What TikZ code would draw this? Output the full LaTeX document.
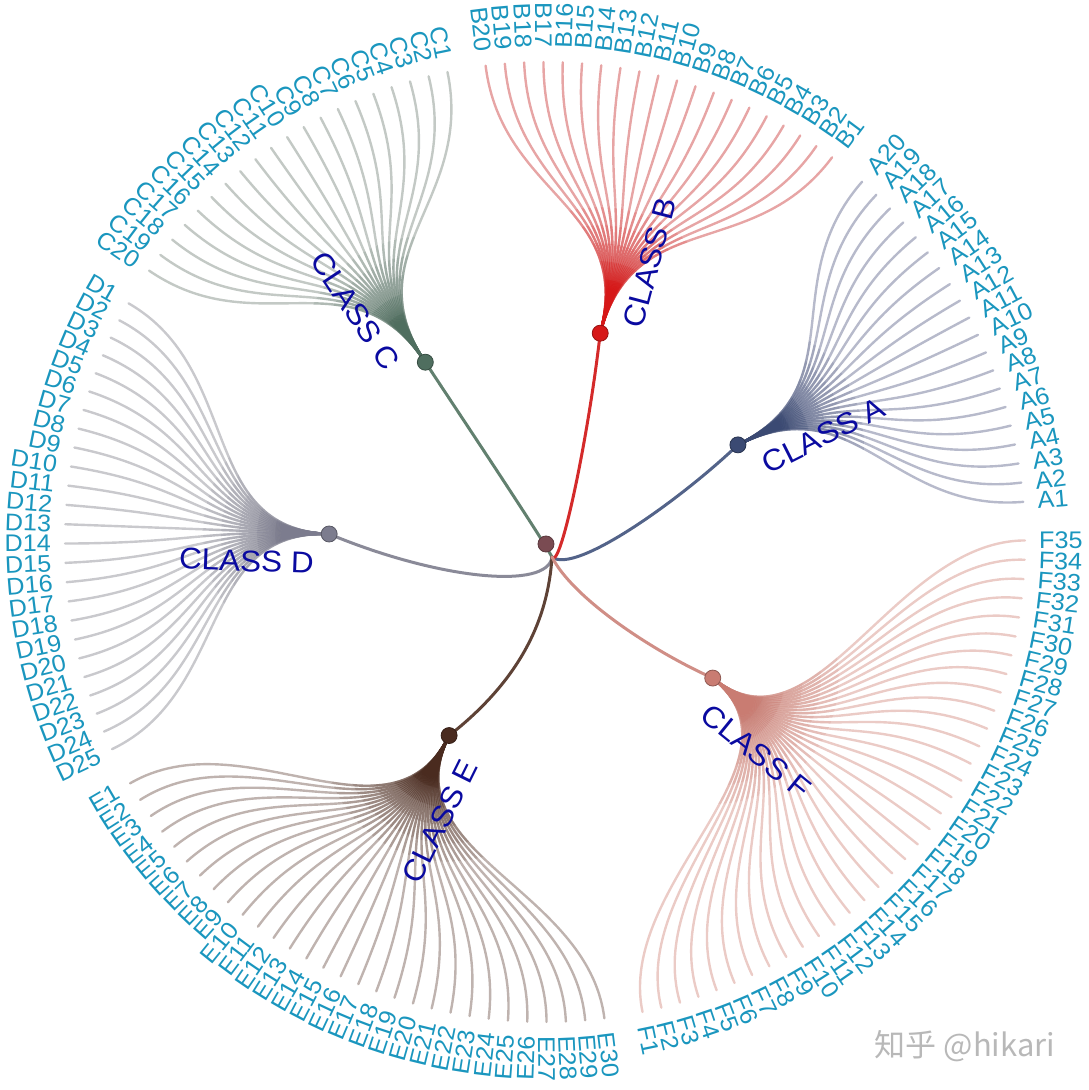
\documentclass[tikz,border=0pt]{standalone}
\usepackage{fontspec}
\setmainfont{Liberation Sans}
\newfontfamily\leaffont{Liberation Sans}[FakeStretch=1.05]
\newfontfamily\cjkfont{Noto Sans CJK SC}
\usepackage{tikz}
\usetikzlibrary{calc}

\definecolor{labcyan}{HTML}{1A96BE}
\definecolor{clsblue}{HTML}{0A0AA0}
\definecolor{rootdot}{HTML}{7A4B52}

\definecolor{trunkA}{HTML}{536389}
\definecolor{trunkB}{HTML}{D42A2A}
\definecolor{trunkC}{HTML}{62806F}
\definecolor{trunkD}{HTML}{8A8A98}
\definecolor{trunkE}{HTML}{5E4236}
\definecolor{trunkF}{HTML}{D08E86}

\definecolor{darkA}{HTML}{3B4A73}
\definecolor{darkB}{HTML}{D61818}
\definecolor{darkC}{HTML}{4F6E5F}
\definecolor{darkD}{HTML}{7C7C8E}
\definecolor{darkE}{HTML}{4A2B1F}
\definecolor{darkF}{HTML}{C97C72}

\definecolor{lightA}{HTML}{B7BACB}
\definecolor{lightB}{HTML}{E7A5A5}
\definecolor{lightC}{HTML}{C3C9C5}
\definecolor{lightD}{HTML}{C9C9CD}
\definecolor{lightE}{HTML}{BFB3AF}
\definecolor{lightF}{HTML}{EBCBC6}

\begin{document}
\begin{tikzpicture}[x=1pt,y=1pt]

	\tikzstyle{leaf} = [line width=2.4pt, line cap=round]
	\tikzstyle{trunk} = [line width=3pt, line cap=round]
	\tikzstyle{dot} = [circle, minimum size=16pt, inner sep=0pt, line width=0.8pt]
	\tikzstyle{leaflabel} = [inner sep=0pt, text=labcyan, font=\leaffont\fontsize{24}{24}\selectfont]
	\tikzstyle{classlabel} = [inner sep=0pt, text=clsblue, font=\leaffont\fontsize{30}{30}\selectfont]

	\useasboundingbox (-545,-548) rectangle (544,542);

	\def\angzero{4.8}
	\def\leafstep{2.3077}
	\def\noder{216}
	\def\ctrlr{348}
	\def\leafr{480}
	\def\labr{494}

%------------------------------------------------------------
	% class nodes and leaf ends
	\foreach \cls/\first/\num in {A/0/20, B/21/20, C/42/20, D/63/25, E/89/30, F/120/35} {
		\pgfmathsetmacro\midang{\angzero+(\first+(\num-1)/2)*\leafstep}
		\coordinate (c\cls) at (\midang:\noder);
		\foreach \i in {1,...,\num} {
			\pgfmathsetmacro\ang{\angzero+(\first+\i-1)*\leafstep}
			\coordinate (\cls\i) at (\ang:\leafr);
		}
	}

%------------------------------------------------------------
	% trunk edges from the hub
	\coordinate (hub) at (7,-15);

	\draw[trunk, trunkA] (hub) .. controls (30,-33) and (135,42) .. (cA);
	\draw[trunk, trunkB] (hub) .. controls (15,-30) and (43,102) .. (cB);
	\draw[trunk, trunkC] (hub) .. controls (-5,7) and (-75,112) .. (cC);
	\draw[trunk, trunkD] (hub) .. controls (3,-48) and (-105,-38) .. (cD);
	\draw[trunk, trunkE] (hub) .. controls (3,-78) and (-25,-138) .. (cE);
	\draw[trunk, trunkF] (hub) .. controls (27,-55) and (105,-108) .. (cF);

%------------------------------------------------------------
	% leaf fans, light first, then darker towards the class node
	\foreach \cls/\first/\num in {A/0/20, B/21/20, C/42/20, D/63/25, E/89/30, F/120/35} {
		\pgfmathsetmacro\midang{\angzero+(\first+(\num-1)/2)*\leafstep}
		\foreach \i in {1,...,\num} {
			\pgfmathsetmacro\ang{\angzero+(\first+\i-1)*\leafstep}
			\draw[leaf, light\cls] (c\cls) .. controls (\midang:\ctrlr) and (\ang:\ctrlr) .. (\cls\i);
		}
		\foreach \rr in {18,36,...,126} {
			\begin{scope}
				\clip (c\cls) circle (\rr);
				\foreach \i in {1,...,\num} {
					\pgfmathsetmacro\ang{\angzero+(\first+\i-1)*\leafstep}
					\draw[leaf, dark\cls, opacity=0.16] (c\cls) .. controls (\midang:\ctrlr) and (\ang:\ctrlr) .. (\cls\i);
				}
			\end{scope}
		}
	}

%------------------------------------------------------------
	% dots
	\node[dot, fill=rootdot, draw=rootdot!75!black] (root) at (1,-2) {};
	\foreach \cls in {A,B,C,D,E,F}
		\node[dot, fill=dark\cls, draw=dark\cls!70!black] (n\cls) at (c\cls) {};

%------------------------------------------------------------
	% leaf labels
	\foreach \cls/\first/\num in {A/0/20, B/21/20, C/42/20, D/63/25, E/89/30, F/120/35} {
		\foreach \i in {1,...,\num} {
			\pgfmathsetmacro\ang{\angzero+(\first+\i-1)*\leafstep}
			\pgfmathparse{(\ang>90)*(\ang<270)}
			\ifdim\pgfmathresult pt>0.5pt
				\node[leaflabel, anchor=east, rotate=\ang-180] (l\cls\i) at (\ang:\labr) {\cls\i};
			\else
				\node[leaflabel, anchor=west, rotate=\ang] (l\cls\i) at (\ang:\labr) {\cls\i};
			\fi
		}
	}

%------------------------------------------------------------
	% class labels
	\foreach \cls/\first/\num in {A/0/20, B/21/20, C/42/20, D/63/25, E/89/30, F/120/35} {
		\pgfmathsetmacro\midang{\angzero+(\first+(\num-1)/2)*\leafstep}
		\pgfmathparse{(\midang>90)*(\midang<270)}
		\ifdim\pgfmathresult pt>0.5pt
			\node[classlabel, anchor=east, rotate=\midang-180] (t\cls) at ($(c\cls)+(\midang:14)+(\midang+90:30)$) {CLASS \cls};
		\else
			\node[classlabel, anchor=west, rotate=\midang] (t\cls) at ($(c\cls)+(\midang:14)+(\midang-90:30)$) {CLASS \cls};
		\fi
	}

	\node[font=\cjkfont\fontsize{31}{31}\selectfont, text=black!28] (mark) at (420,-504) {知乎 @hikari};

\end{tikzpicture}
\end{document}
